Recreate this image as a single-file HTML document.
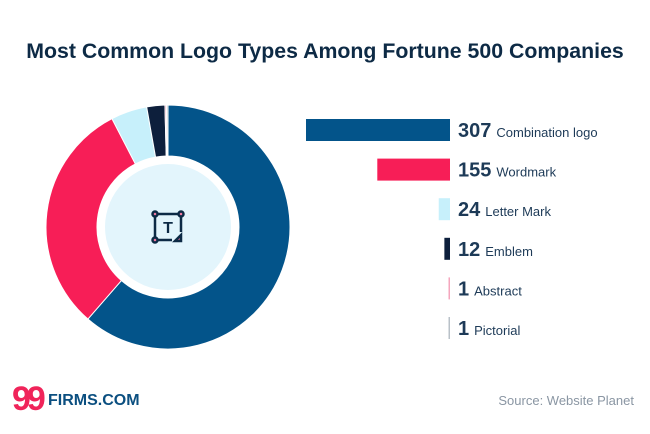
<!DOCTYPE html>
<html><head><meta charset="utf-8"><style>
body{margin:0;width:650px;height:429px;background:#fff;font-family:"Liberation Sans",sans-serif;overflow:hidden}
</style></head><body>
<svg width="650" height="429" viewBox="0 0 650 429">
<text x="325" y="58" text-anchor="middle" font-size="21.3" font-weight="bold" fill="#0d2a45">Most Common Logo Types Among Fortune 500 Companies</text>
<g id="donut"></g>
<circle cx="168" cy="227" r="63" fill="#e3f5fc"/>
<g stroke="#0d2a45" stroke-width="2.5" fill="none">
<path d="M155 214 V240 M181 214 V232 M155 214 H181 M155 240 H172"/>
<text x="168" y="233" text-anchor="middle" font-size="16" font-weight="bold" fill="#0d2a45" stroke="none">T</text>
<circle cx="155" cy="214" r="2.5" fill="#f07aa0"/><circle cx="181" cy="214" r="2.5" fill="#f07aa0"/><circle cx="155" cy="240" r="2.5" fill="#f07aa0"/>
<path d="M181 235 L181 241 L175 241 Z" fill="#f07aa0"/>
</g>
<g id="bars"></g>
<g>
<text x="12" y="410" font-size="34" font-weight="bold" fill="#f0245a" letter-spacing="-4">99</text>
<text x="48" y="405" font-size="16" font-weight="bold" fill="#0b4f80">FIRMS.COM</text>
</g>
<text x="634" y="405" text-anchor="end" font-size="13" fill="#8a96a3">Source: Website Planet</text>
</svg>
<script>
const categories=["Combination logo","Wordmark","Letter Mark","Emblem","Abstract","Pictorial"];
const values=[307,155,24,12,1,1];
const colors=["#03548a","#f71e57","#c7f0fb","#0d1f3c","#f5a6bd","#b9c1c8"];
const NS="http://www.w3.org/2000/svg";
const total=values.reduce((a,b)=>a+b,0);
const cx=168,cy=227,R=122,r=71;
const donut=document.getElementById('donut');
function pt(a,rad){return [cx+rad*Math.sin(a),cy-rad*Math.cos(a)];}
let a0=0;
values.forEach((v,i)=>{
 const a1=a0+v/total*2*Math.PI;
 const [x1,y1]=pt(a0,R),[x2,y2]=pt(a1,R),[x3,y3]=pt(a1,r),[x4,y4]=pt(a0,r);
 const lg=(a1-a0)>Math.PI?1:0;
 const p=document.createElementNS(NS,'path');
 p.setAttribute('d',`M${x1} ${y1} A${R} ${R} 0 ${lg} 1 ${x2} ${y2} L${x3} ${y3} A${r} ${r} 0 ${lg} 0 ${x4} ${y4}Z`);
 p.setAttribute('fill',colors[i]);p.setAttribute('stroke','#fff');p.setAttribute('stroke-width','1');
 
 
 donut.appendChild(p);a0=a1;
});
const bars=document.getElementById('bars');
const xr=450,scale=144/307,y0=130,step=39.6,h=22;
values.forEach((v,i)=>{
 const w=Math.max(v*scale,1.5),yc=y0+i*step;
 const rc=document.createElementNS(NS,'rect');
 rc.setAttribute('x',xr-w);rc.setAttribute('y',yc-h/2);rc.setAttribute('width',w);rc.setAttribute('height',h);rc.setAttribute('fill',colors[i]);
 
 
 bars.appendChild(rc);
 const t=document.createElementNS(NS,'text');
 t.setAttribute('x',458);t.setAttribute('y',yc+7);t.setAttribute('fill','#1d3a57');
 t.innerHTML=`<tspan font-size="20" font-weight="bold">${v}</tspan><tspan font-size="13" dx="5">${categories[i]}</tspan>`;
 
 
 bars.appendChild(t);
});
</script>
</body></html>
